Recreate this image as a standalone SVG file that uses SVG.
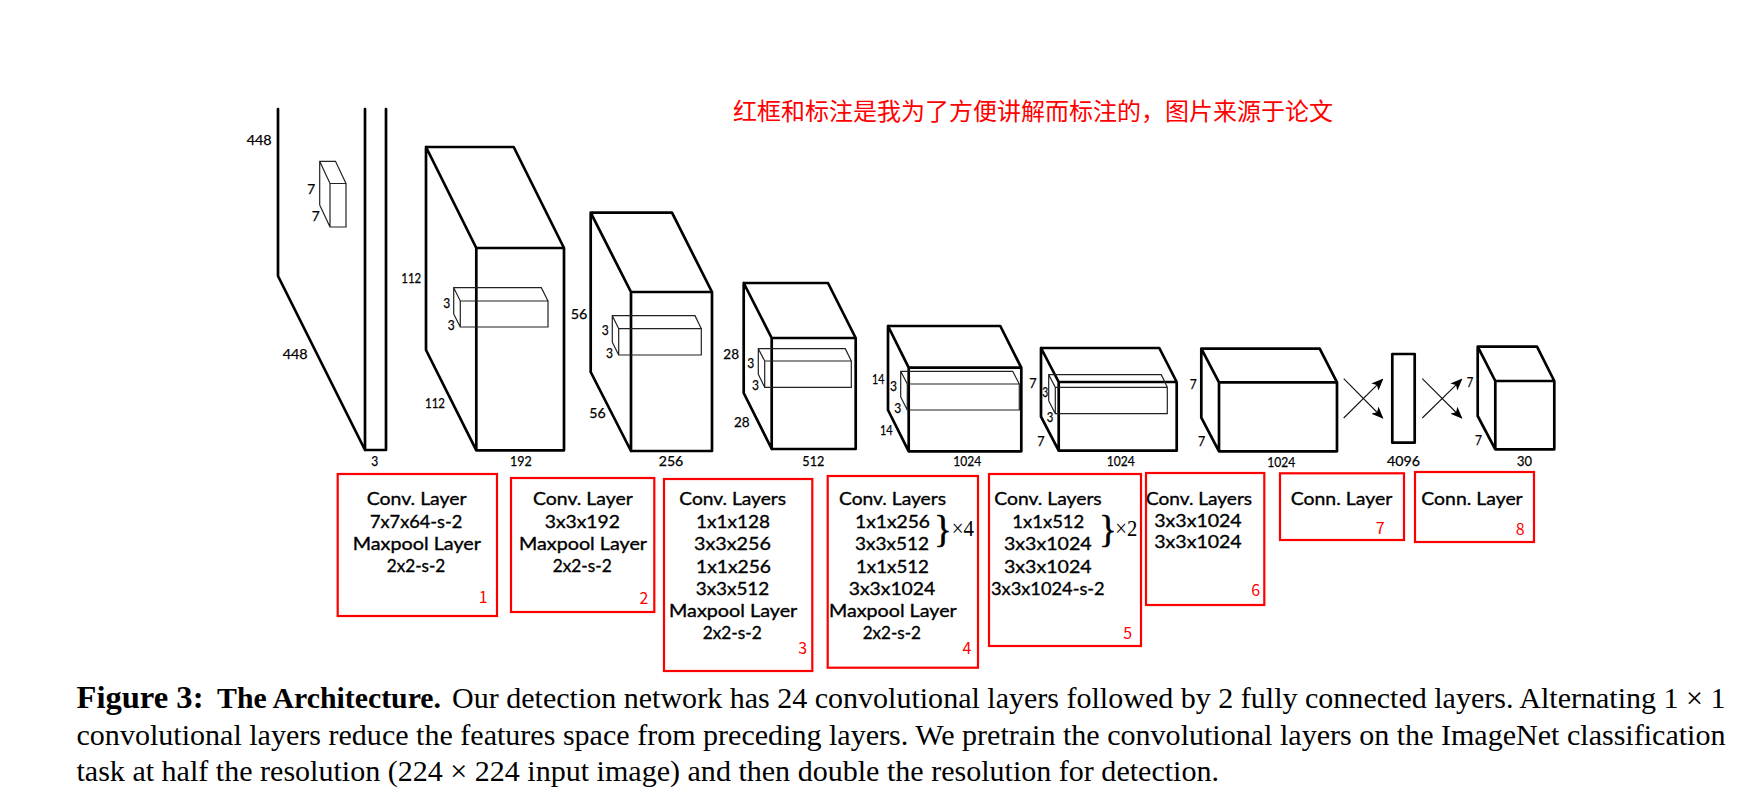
<svg xmlns="http://www.w3.org/2000/svg" width="1759" height="810" viewBox="0 0 1759 810">
<style>
.b{fill:none;stroke:#000;stroke-width:2.7;stroke-linejoin:round;stroke-linecap:round}
.s{fill:none;stroke:#222;stroke-width:1.2;stroke-linejoin:miter}
.r{fill:none;stroke:#f00;stroke-width:2.2}
.a{fill:none;stroke:#111;stroke-width:1.1}
text{font-family:"Lato","Noto Sans",sans-serif;fill:#000}
.t{font-size:18px;stroke:#000;stroke-width:.35}
.d{font-size:14px;stroke:#000;stroke-width:.25}
.n{font-size:16px;fill:#f00;font-family:"Noto Sans CJK SC",sans-serif;text-anchor:middle}
.c{font-family:"Liberation Serif",serif;font-size:29px}
.cb{font-family:"Liberation Serif",serif;font-size:29.4px;font-weight:bold}
.m{font-family:"Liberation Serif",serif;font-size:24px}
.br{font-family:"Liberation Serif",serif;font-size:37px;stroke:#000;stroke-width:.5}
.h{font-family:"Noto Sans CJK SC",sans-serif;font-size:24px;fill:#f00}
</style>
<defs>
<marker id="ah" viewBox="0 0 12 10" refX="11" refY="5" markerWidth="12" markerHeight="10" markerUnits="userSpaceOnUse" orient="auto"><path d="M0 0L12 5L0 10L3 5Z" fill="#000"/></marker>
</defs>
<rect width="1759" height="810" fill="#fff"/>
<text class="h" x="733" y="120" textLength="600" lengthAdjust="spacingAndGlyphs">红框和标注是我为了方便讲解而标注的&#65292;图片来源于论文</text>

<g id="input">
<path class="b" d="M278 109V276L365 450V109M365 450H386V109"/>
<path class="s" d="M319.7 205V161.3H335.5L346 183.5M319.7 161.3L330 183.5H346V227H330V183.5M319.7 205L330 227"/>
<text class="d" lengthAdjust="spacingAndGlyphs" x="246.7" y="145" textLength="25">448</text>
<text class="d" lengthAdjust="spacingAndGlyphs" x="307.3" y="194" textLength="8">7</text>
<text class="d" lengthAdjust="spacingAndGlyphs" x="311.7" y="220.7" textLength="8">7</text>
<text class="d" lengthAdjust="spacingAndGlyphs" x="282.7" y="358.7" textLength="25">448</text>
<text class="d" lengthAdjust="spacingAndGlyphs" x="371.3" y="465.7" textLength="7">3</text>
</g>
<g id="block1">
<path class="b" d="M476.3 248L426 147V350L476.3 450.3M426 147H513.7L564 248H476.3V450.3H564V248"/>
<path class="s" d="M453.7 314V287.7H541.3L548 301M453.7 287.7L460.3 301H548V327H460.3V301M453.7 314L460.3 327"/>
<text class="d" lengthAdjust="spacingAndGlyphs" x="401.3" y="283.3" textLength="20">112</text>
<text class="d" lengthAdjust="spacingAndGlyphs" x="443.3" y="307.7" textLength="7">3</text>
<text class="d" lengthAdjust="spacingAndGlyphs" x="447.7" y="330" textLength="7">3</text>
<text class="d" lengthAdjust="spacingAndGlyphs" x="425" y="408.3" textLength="20">112</text>
<text class="d" lengthAdjust="spacingAndGlyphs" x="510" y="465.7" textLength="21.7">192</text>
</g>
<g id="block2">
<path class="b" d="M631 292L590.7 212.7V372L631 451M590.7 212.7H672L712 292H631V451H712V292"/>
<path class="s" d="M612.3 342.3V315.7H695L701.3 328.7M612.3 315.7L618.7 328.7H701.3V355H618.7V328.7M612.3 342.3L618.7 355"/>
<text class="d" lengthAdjust="spacingAndGlyphs" x="570.7" y="319" textLength="16.6">56</text>
<text class="d" lengthAdjust="spacingAndGlyphs" x="601.7" y="335.3" textLength="7">3</text>
<text class="d" lengthAdjust="spacingAndGlyphs" x="606" y="358" textLength="7">3</text>
<text class="d" lengthAdjust="spacingAndGlyphs" x="589.3" y="417.7" textLength="16.4">56</text>
<text class="d" lengthAdjust="spacingAndGlyphs" x="658.7" y="465.7" textLength="24.6">256</text>
</g>
<g id="block3">
<path class="b" d="M771.7 338L743.7 283V393L771.7 449M743.7 283H828L855.7 338H771.7V449H855.7V338"/>
<path class="s" d="M758.3 374.3V348.7H845.3L851.3 361M758.3 348.7L764.7 361H851.3V387.3H764.7V361M758.3 374.3L764.7 387.3"/>
<text class="d" lengthAdjust="spacingAndGlyphs" x="723.3" y="358.7" textLength="15.7">28</text>
<text class="d" lengthAdjust="spacingAndGlyphs" x="747.3" y="367.7" textLength="7">3</text>
<text class="d" lengthAdjust="spacingAndGlyphs" x="752" y="389.7" textLength="7">3</text>
<text class="d" lengthAdjust="spacingAndGlyphs" x="734" y="426.7" textLength="15.7">28</text>
<text class="d" lengthAdjust="spacingAndGlyphs" x="802.3" y="465.7" textLength="22">512</text>
</g>
<g id="block4">
<path class="b" d="M908.7 367.7L888 326V410L908.7 451.3M888 326H1000.3L1021.3 367.7H908.7V451.3H1021.3V367.7"/>
<path class="s" d="M900.7 397V371.3H1012.7L1019.3 384M900.7 371.3L907.3 384H1019.3V410H907.3V384M900.7 397L907.3 410"/>
<text class="d" lengthAdjust="spacingAndGlyphs" x="872" y="384" textLength="12.3">14</text>
<text class="d" lengthAdjust="spacingAndGlyphs" x="890" y="390.7" textLength="7">3</text>
<text class="d" lengthAdjust="spacingAndGlyphs" x="894.3" y="412.7" textLength="7">3</text>
<text class="d" lengthAdjust="spacingAndGlyphs" x="880" y="435" textLength="12.7">14</text>
<text class="d" lengthAdjust="spacingAndGlyphs" x="953.3" y="465.7" textLength="28">1024</text>
</g>
<g id="block5">
<path class="b" d="M1058.7 382L1041 348V416.7L1058.7 450.7M1041 348H1159.3L1176.7 382H1058.7V450.7H1176.7V382"/>
<path class="s" d="M1048.7 400.7V374.7H1161.3L1167.3 387.3M1048.7 374.7L1055.3 387.3H1167.3V413.7H1055.3V387.3M1048.7 400.7L1055.3 413.7"/>
<text class="d" lengthAdjust="spacingAndGlyphs" x="1029.3" y="388.3" textLength="7.4">7</text>
<text class="d" lengthAdjust="spacingAndGlyphs" x="1042.3" y="396.7" textLength="6">3</text>
<text class="d" lengthAdjust="spacingAndGlyphs" x="1046.7" y="421.7" textLength="6.6">3</text>
<text class="d" lengthAdjust="spacingAndGlyphs" x="1037.3" y="446" textLength="7.4">7</text>
<text class="d" lengthAdjust="spacingAndGlyphs" x="1106.7" y="465.7" textLength="28">1024</text>
</g>
<g id="block6">
<path class="b" d="M1219 382.3L1201.3 348.7V417.7L1219 451.3M1201.3 348.7H1319.7L1337 382.3H1219V451.3H1337V382.3"/>
<text class="d" lengthAdjust="spacingAndGlyphs" x="1189.7" y="389" textLength="7">7</text>
<text class="d" lengthAdjust="spacingAndGlyphs" x="1198" y="446" textLength="7.3">7</text>
<text class="d" lengthAdjust="spacingAndGlyphs" x="1267.3" y="467" textLength="28">1024</text>
</g>
<g id="fc">
<rect class="b" x="1392.3" y="354" width="22.4" height="88.7"/>
<text class="d" lengthAdjust="spacingAndGlyphs" x="1387" y="465.7" textLength="33">4096</text>
</g>
<g id="output">
<path class="b" d="M1495.3 381L1477.7 346.7V416L1495.3 449.3M1477.7 346.7H1537L1554.3 381H1495.3V449.3H1554.3V381"/>
<text class="d" lengthAdjust="spacingAndGlyphs" x="1466.7" y="387.3" textLength="6.6">7</text>
<text class="d" lengthAdjust="spacingAndGlyphs" x="1475" y="444.7" textLength="7">7</text>
<text class="d" lengthAdjust="spacingAndGlyphs" x="1517" y="465.5" textLength="15">30</text>
</g>
<g id="connectors">
<path class="a" marker-end="url(#ah)" d="M1343.7 378.7L1382.7 418"/>
<path class="a" marker-end="url(#ah)" d="M1343.7 418L1382.7 379.3"/>
<path class="a" marker-end="url(#ah)" d="M1422.3 378.7L1461.7 418"/>
<path class="a" marker-end="url(#ah)" d="M1422.3 418L1461.7 379.3"/>
</g>
<g id="box1">
<rect class="r" x="337.7" y="474" width="159.3" height="142"/>
<text class="t" lengthAdjust="spacingAndGlyphs" x="366.7" y="505" textLength="100">Conv. Layer</text>
<text class="t" lengthAdjust="spacingAndGlyphs" x="370" y="528" textLength="92.3">7x7x64-s-2</text>
<text class="t" lengthAdjust="spacingAndGlyphs" x="352.7" y="550" textLength="128.3">Maxpool Layer</text>
<text class="t" lengthAdjust="spacingAndGlyphs" x="386.7" y="572" textLength="58.6">2x2-s-2</text>
<text class="n" x="483.3" y="602.7">1</text>
</g>
<g id="box2">
<rect class="r" x="511" y="478" width="143.3" height="134"/>
<text class="t" lengthAdjust="spacingAndGlyphs" x="533" y="505" textLength="99.7">Conv. Layer</text>
<text class="t" lengthAdjust="spacingAndGlyphs" x="544.7" y="528" textLength="75.3">3x3x192</text>
<text class="t" lengthAdjust="spacingAndGlyphs" x="519" y="550" textLength="128">Maxpool Layer</text>
<text class="t" lengthAdjust="spacingAndGlyphs" x="552.7" y="572" textLength="59">2x2-s-2</text>
<text class="n" x="644" y="604">2</text>
</g>
<g id="box3">
<rect class="r" x="664" y="479" width="148.3" height="192"/>
<text class="t" lengthAdjust="spacingAndGlyphs" x="679.3" y="505" textLength="106.7">Conv. Layers</text>
<text class="t" lengthAdjust="spacingAndGlyphs" x="696" y="528" textLength="74">1x1x128</text>
<text class="t" lengthAdjust="spacingAndGlyphs" x="694" y="550" textLength="77">3x3x256</text>
<text class="t" lengthAdjust="spacingAndGlyphs" x="696" y="572.5" textLength="75">1x1x256</text>
<text class="t" lengthAdjust="spacingAndGlyphs" x="695.7" y="594.5" textLength="73.6">3x3x512</text>
<text class="t" lengthAdjust="spacingAndGlyphs" x="669" y="616.7" textLength="128.3">Maxpool Layer</text>
<text class="t" lengthAdjust="spacingAndGlyphs" x="702.7" y="639" textLength="59">2x2-s-2</text>
<text class="n" x="802.7" y="654">3</text>
</g>
<g id="box4">
<rect class="r" x="827.7" y="476" width="150.3" height="191.7"/>
<text class="t" lengthAdjust="spacingAndGlyphs" x="839" y="505" textLength="107">Conv. Layers</text>
<text class="t" lengthAdjust="spacingAndGlyphs" x="855" y="528" textLength="75">1x1x256</text>
<text class="t" lengthAdjust="spacingAndGlyphs" x="855" y="550" textLength="74">3x3x512</text>
<text class="t" lengthAdjust="spacingAndGlyphs" x="856" y="572.5" textLength="73">1x1x512</text>
<text class="t" lengthAdjust="spacingAndGlyphs" x="848.7" y="594.5" textLength="86.6">3x3x1024</text>
<text class="t" lengthAdjust="spacingAndGlyphs" x="829" y="616.7" textLength="127.7">Maxpool Layer</text>
<text class="t" lengthAdjust="spacingAndGlyphs" x="862.7" y="639" textLength="58.3">2x2-s-2</text>
<text class="br" x="934" y="542">}</text>
<text class="m" lengthAdjust="spacingAndGlyphs" x="951.7" y="536" textLength="22.3">×4</text>
<text class="n" x="967" y="654">4</text>
</g>
<g id="box5">
<rect class="r" x="989" y="474" width="152" height="172"/>
<text class="t" lengthAdjust="spacingAndGlyphs" x="994.3" y="505" textLength="107.4">Conv. Layers</text>
<text class="t" lengthAdjust="spacingAndGlyphs" x="1012.3" y="528" textLength="72">1x1x512</text>
<text class="t" lengthAdjust="spacingAndGlyphs" x="1004" y="550" textLength="87.7">3x3x1024</text>
<text class="t" lengthAdjust="spacingAndGlyphs" x="1004" y="572.5" textLength="87.7">3x3x1024</text>
<text class="t" lengthAdjust="spacingAndGlyphs" x="991" y="594.5" textLength="113.7">3x3x1024-s-2</text>
<text class="br" x="1099" y="542">}</text>
<text class="m" lengthAdjust="spacingAndGlyphs" x="1115.3" y="536" textLength="22">×2</text>
<text class="n" x="1127.7" y="639">5</text>
</g>
<g id="box6">
<rect class="r" x="1146" y="473" width="118.3" height="132"/>
<text class="t" lengthAdjust="spacingAndGlyphs" x="1146" y="505" textLength="106">Conv. Layers</text>
<text class="t" lengthAdjust="spacingAndGlyphs" x="1154.3" y="526.7" textLength="87.4">3x3x1024</text>
<text class="t" lengthAdjust="spacingAndGlyphs" x="1154.3" y="548.3" textLength="87.4">3x3x1024</text>
<text class="n" x="1255.7" y="595.7">6</text>
</g>
<g id="box7">
<rect class="r" x="1280" y="473.3" width="124" height="66.7"/>
<text class="t" lengthAdjust="spacingAndGlyphs" x="1290.7" y="505" textLength="101.6">Conn. Layer</text>
<text class="n" x="1380.3" y="534">7</text>
</g>
<g id="box8">
<rect class="r" x="1415" y="472" width="119" height="70"/>
<text class="t" lengthAdjust="spacingAndGlyphs" x="1421.3" y="505" textLength="101.4">Conn. Layer</text>
<text class="n" x="1520.3" y="535">8</text>
</g>
<g id="caption">
<text class="cb" x="76.5" y="708" textLength="127" lengthAdjust="spacingAndGlyphs" style="font-size:32px">Figure 3:</text>
<text class="cb" x="217" y="708" textLength="224" lengthAdjust="spacingAndGlyphs">The Architecture.</text>
<text class="c" x="452" y="708" textLength="1273.5" lengthAdjust="spacingAndGlyphs">Our detection network has 24 convolutional layers followed by 2 fully connected layers. Alternating 1 × 1</text>
<text class="c" x="76.5" y="744.5" textLength="1649" lengthAdjust="spacingAndGlyphs">convolutional layers reduce the features space from preceding layers. We pretrain the convolutional layers on the ImageNet classification</text>
<text class="c" x="76.5" y="781" textLength="1142.5" lengthAdjust="spacingAndGlyphs">task at half the resolution (224 × 224 input image) and then double the resolution for detection.</text>
</g>
</svg>
